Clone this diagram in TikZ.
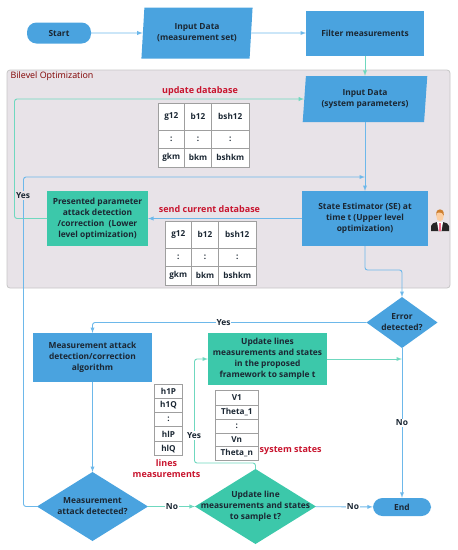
\documentclass[tikz,border=0pt]{standalone}
\usepackage{fontspec}
\setmainfont{Open Sans}
\usetikzlibrary{shapes.geometric,arrows}
\definecolor{bluebox}{HTML}{4AA3DF}
\definecolor{greenbox}{HTML}{3CC8AA}
\definecolor{blueline}{HTML}{6DB8EA}
\definecolor{greenline}{HTML}{6FD8BF}
\definecolor{redtext}{HTML}{C8142E}
\definecolor{inktext}{HTML}{1B2733}
\definecolor{panel}{HTML}{E8E3E8}
\newcommand{\diatxt}[1]{\makebox[0pt]{\begin{tabular}{@{}c@{}}#1\end{tabular}}}
\tikzset{
  txt/.style={font=\fontsize{8.4}{11.1}\selectfont\bfseries,text=inktext,align=center,inner sep=0pt},
  flowbox/.style={txt,rectangle,outer sep=0pt},
  endbox/.style={txt,fill=bluebox,rectangle,rounded corners=9.5pt,minimum width=64pt,minimum height=21pt},
  databox/.style={txt,trapezium,trapezium left angle=83,trapezium right angle=97,trapezium stretches=true,fill=bluebox},
  testbox/.style={txt,diamond,outer sep=0pt},
  cell/.style={txt,rectangle,draw=gray!75,line width=0.8pt,fill=white,font=\fontsize{8.2}{9}\selectfont\bfseries},
  redlabel/.style={txt,text=redtext,font=\fontsize{9}{11.3}\selectfont\bfseries},
  linelabel/.style={txt,fill=white,inner sep=1pt},
  blueflow/.style={->,>=latex,draw=blueline,line width=0.9pt,rounded corners=2.5pt},
  greenflow/.style={->,>=latex,draw=greenline,line width=0.9pt,rounded corners=2.5pt},
}
\begin{document}
\begin{tikzpicture}[x=1pt,y=-1pt]
  \useasboundingbox (0,0) rectangle (458,550);
  \node [rectangle,draw=gray!45,fill=panel,line width=0.8pt,rounded corners=3pt,minimum width=443pt,minimum height=218pt] (bilevel) at (228.5,179) {};
  \node [txt,anchor=west,font=\fontsize{8.9}{10}\selectfont,text=red!50!black] (bileveltitle) at (10.5,76.5) {Bilevel Optimization};

  % top row
  \node [endbox] (start) at (59,33) {Start};
  \node [databox,minimum width=112pt,minimum height=51pt] (indata) at (197,33) {Input Data\\(measurement set)};
  \node [flowbox,fill=bluebox,minimum width=118pt,minimum height=45pt] (filter) at (365,33) {Filter measurements};

  % bilevel part
  \node [databox,minimum width=125pt,minimum height=46pt] (insys) at (365,99) {Input Data\\(system parameters)};
  \node [flowbox,fill=bluebox,minimum width=125.5pt,minimum height=55pt] (se) at (365,218.5) {State Estimator (SE) at\\time t (Upper level\\optimization)};
  \node [flowbox,fill=greenbox,minimum width=101pt,minimum height=55pt] (attack) at (97.5,218.5) {Presented parameter\\attack detection\\/correction~ (Lower\\level optimization)};
  \node [redlabel] (updatelabel) at (200,91) {update database};
  \node [redlabel] (sendlabel) at (209.5,209) {send current database};

  \foreach \t/\x/\y in {upd/158/103,snd/165/221} {
    \node [cell,minimum width=26.5pt,minimum height=27pt] (\t-g1) at (\x+13.25,\y+13.5) {g12};
    \node [cell,minimum width=27pt,minimum height=27pt] (\t-b1) at (\x+40,\y+13.5) {b12};
    \node [cell,minimum width=37.5pt,minimum height=27pt] (\t-s1) at (\x+72.25,\y+13.5) {bsh12};
    \node [cell,minimum width=26.5pt,minimum height=18pt] (\t-g2) at (\x+13.25,\y+36) {:};
    \node [cell,minimum width=27pt,minimum height=18pt] (\t-b2) at (\x+40,\y+36) {:};
    \node [cell,minimum width=37.5pt,minimum height=18pt] (\t-s2) at (\x+72.25,\y+36) {:};
    \node [cell,minimum width=26.5pt,minimum height=19pt] (\t-g3) at (\x+13.25,\y+54.5) {gkm};
    \node [cell,minimum width=27pt,minimum height=19pt] (\t-b3) at (\x+40,\y+54.5) {bkm};
    \node [cell,minimum width=37.5pt,minimum height=19pt] (\t-s3) at (\x+72.25,\y+54.5) {bshkm};
  }

  % lower part
  \node [testbox,fill=bluebox,minimum width=71pt,minimum height=51pt] (error) at (402,322.5) {\diatxt{Error\\detected?}};
  \node [flowbox,fill=bluebox,minimum width=119pt,minimum height=49pt] (measure) at (92.5,357.5) {Measurement attack\\detection/correction\\algorithm};
  \node [flowbox,fill=greenbox,minimum width=119pt,minimum height=52pt] (lines) at (267.5,359) {Update lines\\measurements and states\\in the proposed\\framework to sample t};
  \node [testbox,fill=bluebox,minimum width=111pt,minimum height=69pt] (detected) at (92.5,506.5) {\diatxt{Measurement\\attack detected?}};
  \node [testbox,fill=greenbox,minimum width=121pt,minimum height=75pt] (sample) at (255.5,506.5) {\diatxt{Update line\\measurements and states\\to sample t?}};
  \node [endbox,minimum width=58pt,minimum height=18pt] (end) at (402,507) {End};

  \node [cell,minimum width=27.5pt,minimum height=14pt] (h1) at (168.5,391.3) {h1P};
  \node [cell,minimum width=27.5pt,minimum height=14.4pt] (h2) at (168.5,405.5) {h1Q};
  \node [cell,minimum width=27.5pt,minimum height=14pt] (h3) at (168.5,419.7) {:};
  \node [cell,minimum width=27.5pt,minimum height=15pt] (h4) at (168.5,434.2) {hlP};
  \node [cell,minimum width=27.5pt,minimum height=14pt] (h5) at (168.5,448.7) {hlQ};
  \node [cell,minimum width=43pt,minimum height=14.7pt] (v1) at (236.8,397.7) {V1};
  \node [cell,minimum width=43pt,minimum height=14pt] (v2) at (236.8,412) {Theta\_1};
  \node [cell,minimum width=43pt,minimum height=14.3pt] (v3) at (236.8,426.2) {:};
  \node [cell,minimum width=43pt,minimum height=12.7pt] (v4) at (236.8,439.7) {Vn};
  \node [cell,minimum width=43pt,minimum height=14.3pt] (v5) at (236.8,453.2) {Theta\_n};
  \node [redlabel] (lineslabel) at (166.5,468.5) {lines\\measurements};
  \node [redlabel] (stateslabel) at (290.7,451) {system states};

  % person next to the estimator
  \fill [gray!30!black] (431,231) -- (431,226) .. controls (431,223.5) and (434,223) .. (437,222) -- (443,222) .. controls (446,223) and (449,223.5) .. (449,226) -- (449,231) -- cycle;
  \fill [white] (437,222) -- (443,222) -- (441.5,231) -- (438.5,231) -- cycle;
  \fill [magenta!50!red!60!white] (439.2,223) -- (440.8,223) -- (441.2,231) -- (438.8,231) -- cycle;
  \fill [orange!35!white!95!brown] (440,216) ellipse (3.7pt and 5.3pt);
  \fill [brown!75!orange] (436.2,215.5) .. controls (435.8,210.5) and (438,209.3) .. (440,209.3) .. controls (442,209.3) and (444.2,210.5) .. (443.8,215.5) .. controls (443,212.5) and (441,212.5) .. (438.5,212.5) .. controls (437,212.5) and (436.5,213.5) .. (436.2,215.5) -- cycle;

  % connectors
  \coordinate (loopcorner) at (23.5,177);
  \coordinate (loopend) at (365,177);
  \coordinate (leftcorner) at (14.5,218.5);
  \coordinate (errorcorner) at (365,270);
  \coordinate (mergeend) at (402,359);
  \coordinate (samplecorner) at (255.5,463);
  \coordinate (yescorner) at (194.5,463);

  \draw [blueflow] (start) -- (indata);
  \draw [blueflow] (indata) -- (filter);
  \draw [greenflow] (filter) -- (insys);
  \draw [blueflow] (insys) -- (se);
  \draw [blueflow] (se) -- (attack);
  \draw [greenflow] (attack) -- (leftcorner) |- (insys.west);
  \draw [blueflow] (detected) -| (loopcorner) -- (loopend);
  \draw [blueflow] (se.south) |- (errorcorner -| error.north) -- (error.north);
  \draw [blueflow] (error) -| (measure);
  \draw [blueflow] (error) -- (end);
  \draw [blueflow] (measure) -- (detected);
  \draw [greenflow] (detected) -- (sample);
  \draw [blueflow] (sample) -- (end);
  \draw [greenflow] (lines) -- (mergeend);
  \draw [greenflow] (sample.north) -- (samplecorner) -- (yescorner) |- (lines.west);

  % labels on connectors
  \node [linelabel,fill=panel] (yesloop) at (23,195.5) {Yes};
  \node [linelabel] (yeserror) at (223.5,322.5) {Yes};
  \node [linelabel] (noerror) at (402,423) {No};
  \node [linelabel] (yessample) at (194,435.5) {Yes};
  \node [linelabel] (nodetected) at (172,507) {No};
  \node [linelabel] (nosample) at (353,507) {No};
\end{tikzpicture}
\end{document}
